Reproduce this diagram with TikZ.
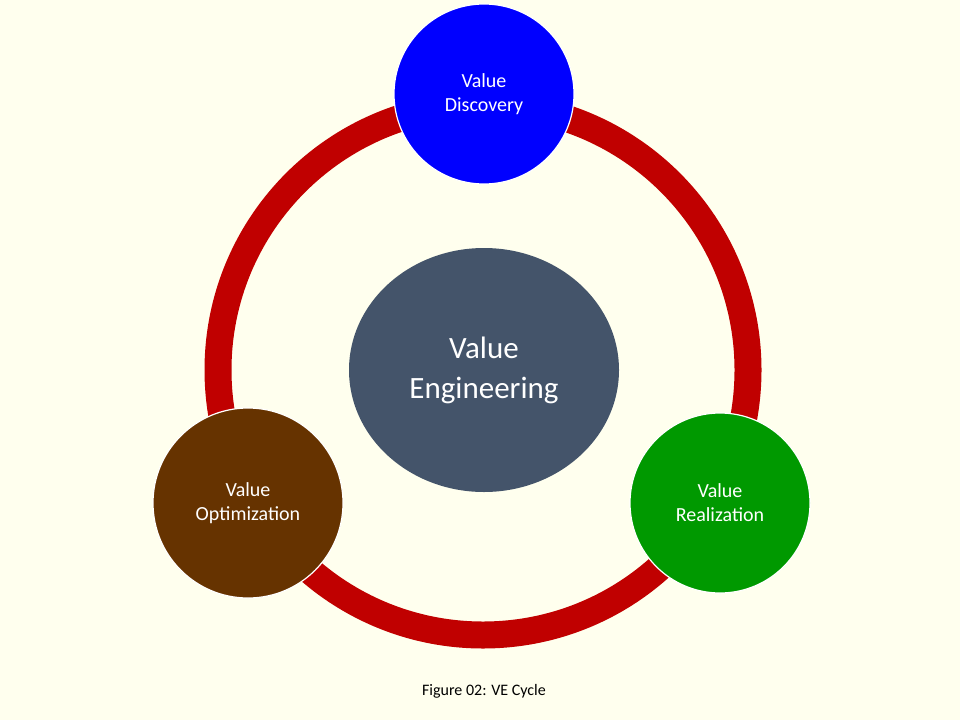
\documentclass[tikz,border=0pt]{standalone}
\usepackage{fontspec}
\setmainfont{Carlito}
\usetikzlibrary{shapes.geometric}
\definecolor{paper}{HTML}{FFFFEE}
\definecolor{ring}{HTML}{C00000}
\definecolor{slate}{HTML}{44546A}
\definecolor{brownish}{HTML}{663300}
\definecolor{greenish}{HTML}{009900}
\tikzset{
  stage/.style={circle,draw=white,line width=1.2pt,text=white,align=center,font=\fontsize{20}{24}\selectfont,inner sep=0pt},
}
\begin{document}
\begin{tikzpicture}[x=1pt,y=-1pt]
	% Background and frame
	\fill[paper] (0,0) rectangle (960,720);
	\useasboundingbox (0,0) rectangle (960,720);
	% The cycle ring
	\draw[ring,line width=27pt] (483,370) circle (265);
	% Centre ellipse
	\node[ellipse,fill=slate,minimum width=270,minimum height=244,text=white,align=center,
	      font=\fontsize{31}{40}\selectfont] (core) at (484,370) {Value\\Engineering};
	% The three stages
	\node[stage,fill=blue,minimum size=180] (discovery) at (484,94) {Value\\Discovery};
	\node[stage,fill=brownish,minimum size=190] (optimization) at (248,503) {Value\\Optimization};
	\node[stage,fill=greenish,minimum size=180] (realization) at (720,503) {Value\\Realization};
	% Caption
	\node[font=\fontsize{16}{19}\selectfont] (caption) at (484,691) {Figure 02: VE Cycle};
\end{tikzpicture}
\end{document}
